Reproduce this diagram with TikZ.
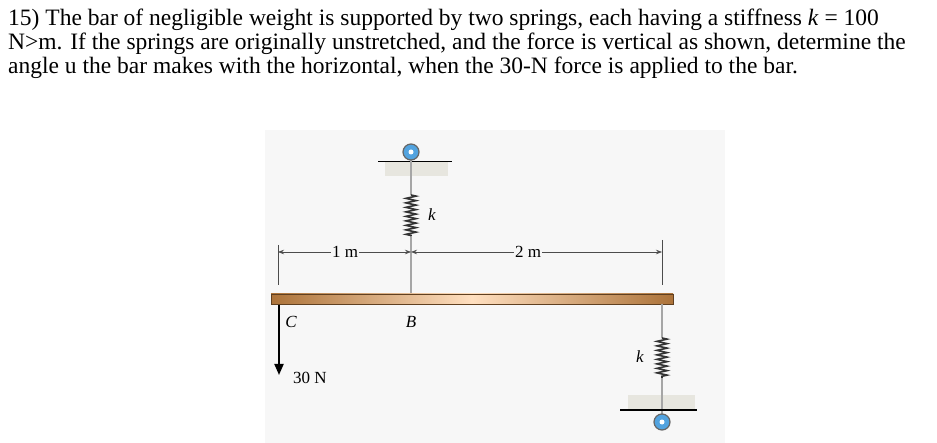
\documentclass[tikz,border=0pt]{standalone}
\usepackage{fontspec}
\setmainfont{Liberation Serif}
\usetikzlibrary{arrows.meta,decorations.pathmorphing}
\begin{document}
\begin{tikzpicture}[x=1pt,y=-1pt,
  hdr/.style={anchor=west,inner sep=0pt,font=\fontsize{23.5}{26}\selectfont},
  lbl/.style={inner sep=1pt,font=\fontsize{17}{19}\selectfont},
  ilbl/.style={inner sep=1pt,font=\itshape\fontsize{17}{19}\selectfont},
  rod/.style={draw=gray!70,line width=2.4pt},
  coil/.style={draw=black!80,line width=1.6pt,decorate,decoration={zigzag,segment length=4.5pt,amplitude=5pt}},
  pin/.style={circle,draw=black!60,fill=cyan!70!blue!70,line width=1.2pt,minimum size=16pt,inner sep=0pt},
  dim/.style={draw=black!70,line width=0.7pt},
  shade/.style={fill=black!10!yellow!15!gray!25,draw=none}]
\useasboundingbox (0,0) rectangle (937,443);
\fill[black!3] (265,130) rectangle (725,443);
\node[hdr] (l1) at (8,20) {15) The bar of negligible weight is supported by two springs, each having a stiffness \textit{k} = 100};
\node[hdr] (l2) at (8,44) {N>m. If the springs are originally unstretched, and the force is vertical as shown, determine the};
\node[hdr] (l3) at (8,68) {angle u the bar makes with the horizontal, when the 30-N force is applied to the bar.};
% top support
\fill[shade] (385,162) rectangle (448,176);
\draw[line width=1pt] (378,162) -- (452,162);
\coordinate (tp) at (411,152);
\coordinate (c1) at (411,195);
\coordinate (c2) at (411,236);
\coordinate (Bt) at (411,294);
\draw[rod] (tp) -- (c1); \draw[rod] (c2) -- (Bt);
\draw[coil] (c1) -- (c2);
\node[pin] (p1) at (tp) {}; \fill[white] (tp) circle (2.5pt);
\node[ilbl] (k1) at (432,215) {k};
% bar
\shade[left color=brown!90!black, right color=brown!90!black, middle color=orange!25] (271,294) rectangle (673,304);
\draw[brown!50!black,line width=0.6pt] (271,294) rectangle (673,304);
% right spring
\coordinate (Rb) at (662,304);
\coordinate (c3) at (662,338);
\coordinate (c4) at (662,378);
\coordinate (bp) at (662,422);
\fill[shade] (628,395) rectangle (695,410);
\draw[rod] (Rb) -- (c3); \draw[rod] (c4) -- (bp);
\draw[coil] (c3) -- (c4);
\draw[line width=1pt] (620,410) -- (697,410);
\node[pin] (p2) at (bp) {}; \fill[white] (bp) circle (2.5pt);
\node[ilbl] (k2) at (640,357) {k};
% dimensions
\coordinate (dl) at (278,252); \coordinate (dm) at (411,252); \coordinate (dr) at (662,252);
\draw[dim] (278,245) -- (278,285);
\draw[dim] (662,240) -- (662,285);
\node[lbl,fill=black!3] (d1) at (345,252) {1 m};
\node[lbl,fill=black!3] (d2) at (528,252) {2 m};
\draw[dim,-{Stealth[length=6pt]}] (d1) -- (dl);
\draw[dim,-{Stealth[length=6pt]}] (d1) -- (dm);
\draw[dim,-{Stealth[length=6pt]}] (d2) -- (dm);
\draw[dim,-{Stealth[length=6pt]}] (d2) -- (dr);
% labels
\node[ilbl] (C) at (291,322) {C};
\node[ilbl] (B) at (411,322) {B};
\coordinate (f1) at (279,305); \coordinate (f2) at (279,375);
\draw[line width=2pt,-{Triangle[length=11pt,width=9pt]}] (f1) -- (f2);
\node[lbl] (F) at (310,378) {30 N};
\end{tikzpicture}
\end{document}
